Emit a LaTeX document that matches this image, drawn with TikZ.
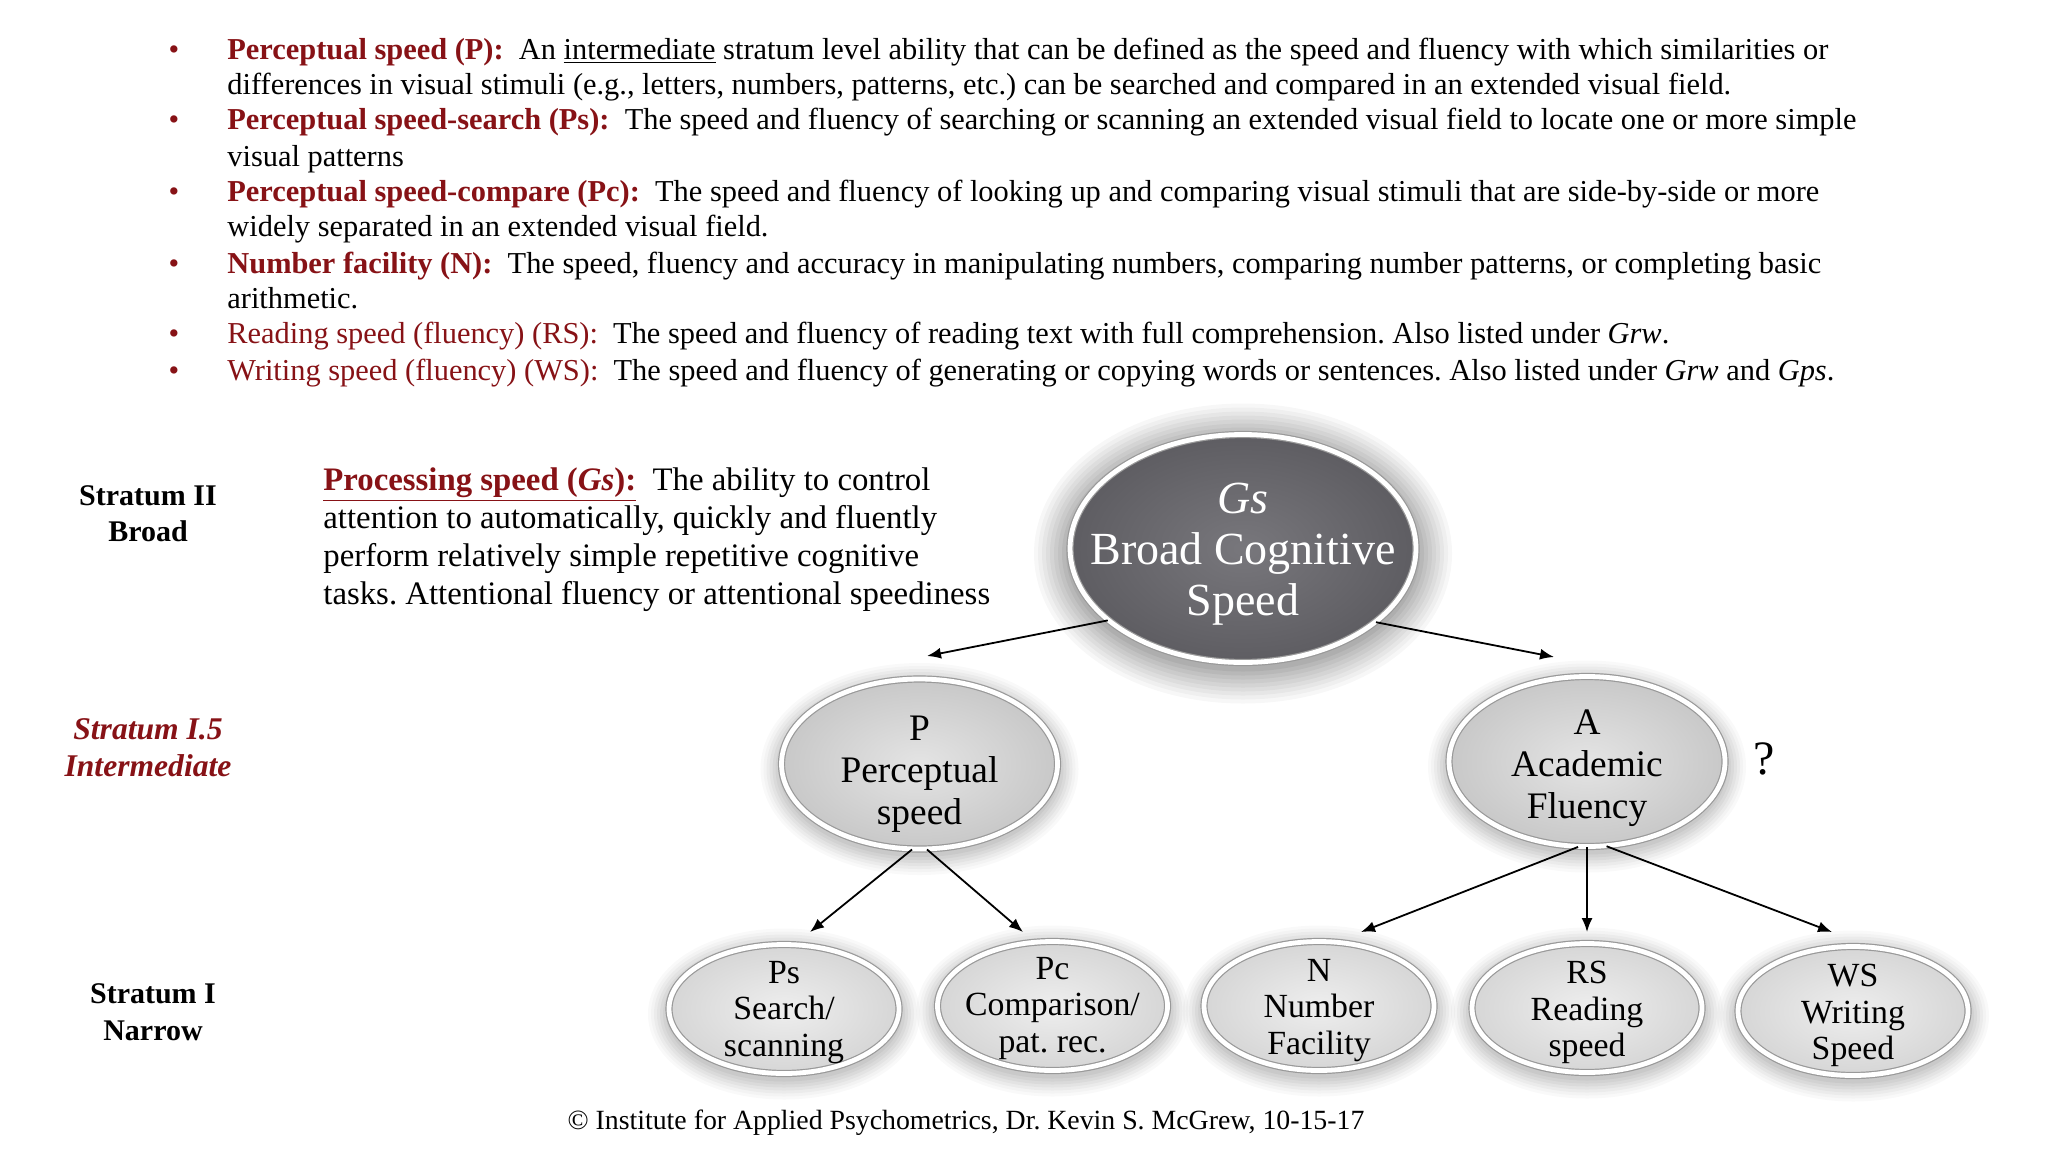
\documentclass[tikz,border=0pt]{standalone}
\usepackage{fontspec}
\setmainfont{Liberation Serif}
\usetikzlibrary{shapes.geometric,arrows.meta}
\definecolor{dred}{RGB}{135,18,22}
\definecolor{gsin}{RGB}{120,119,124}
\definecolor{gsout}{RGB}{94,93,98}
\definecolor{lin}{RGB}{228,228,228}
\definecolor{lout}{RGB}{200,200,200}
\definecolor{sin}{RGB}{238,238,238}
\definecolor{sout}{RGB}{214,214,214}
\newcommand\myfs[2]{\fontsize{#1}{#2}\selectfont}
\frenchspacing
\begin{document}
\begin{tikzpicture}[x=0.5pt,y=-0.5pt,
  txt/.style={anchor=base west, inner sep=0pt, font=\myfs{15.2}{18}},
  bdot/.style={anchor=base, inner sep=0pt, text=dred, font=\myfs{15.2}{18}},
  gstxt/.style={anchor=base west, inner sep=0pt, font=\myfs{16.4}{19}},
  stratum/.style={align=center, inner sep=0pt, font=\myfs{15}{18.2}\bfseries},
  gl/.style 2 args={preaction={draw=black, draw opacity=#2, line width=#1, transform canvas={yshift=-2.5pt}}},
  glowbig/.style={gl={36pt}{0.03}, gl={32pt}{0.03}, gl={28pt}{0.035}, gl={24pt}{0.035}, gl={20pt}{0.04},
    gl={16pt}{0.04}, gl={12pt}{0.045}, gl={8pt}{0.05}, gl={4pt}{0.05}},
  glow/.style={gl={21pt}{0.025}, gl={18pt}{0.025}, gl={15pt}{0.03}, gl={12pt}{0.03}, gl={9pt}{0.035},
    gl={6pt}{0.035}, gl={3pt}{0.04}},
  bubble/.style={ellipse, inner sep=0pt, draw=black!40, double=white, double distance=2.4pt, line width=0.6pt},
  gsbub/.style={bubble, glowbig, shade, inner color=gsin, outer color=gsout, minimum width=173pt, minimum height=114pt},
  midbub/.style={bubble, glow, shade, inner color=lin, outer color=lout, minimum width=138pt, minimum height=85pt},
  smallbub/.style={bubble, glow, shade, inner color=sin, outer color=sout, minimum width=115pt, minimum height=64.5pt},
  gslab/.style={align=center, inner sep=0pt, text=white, font=\myfs{23}{25.5}},
  midlab/.style={align=center, inner sep=0pt, font=\myfs{18.7}{21}},
  smalllab/.style={align=center, inner sep=0pt, font=\myfs{16.9}{18.3}},
  arr/.style={-{Latex[length=7pt,width=5.5pt]}, line width=0.9pt}
]
\path[use as bounding box] (0,0) rectangle (2048,1152);
\fill[white] (0,0) rectangle (2048,1152);

% bullet list
\node[bdot] (d1) at (174,59) {\textbullet};
\node[txt] (l1) at (227,59) {\textcolor{dred}{\bfseries Perceptual speed (P):}\ \ An \underline{intermediate} stratum level ability that can be defined as the speed and fluency with which similarities or};
\node[txt] (l2) at (227,94) {differences in visual stimuli (e.g., letters, numbers, patterns, etc.) can be searched and compared in an extended visual field.};
\node[bdot] (d3) at (174,129.5) {\textbullet};
\node[txt] (l3) at (227,129.5) {\textcolor{dred}{\bfseries Perceptual speed-search (Ps):}\ \ The speed and fluency of searching or scanning an extended visual field to locate one or more simple};
\node[txt] (l4) at (227,166) {visual patterns};
\node[bdot] (d5) at (174,201) {\textbullet};
\node[txt] (l5) at (227,201) {\textcolor{dred}{\bfseries Perceptual speed-compare (Pc):}\ \ The speed and fluency of looking up and comparing visual stimuli that are side-by-side or more};
\node[txt] (l6) at (227,236.6) {widely separated in an extended visual field.};
\node[bdot] (d7) at (174,273) {\textbullet};
\node[txt] (l7) at (227,273) {\textcolor{dred}{\bfseries Number facility (N):}\ \ The speed, fluency and accuracy in manipulating numbers, comparing number patterns, or completing basic};
\node[txt] (l8) at (227,308) {arithmetic.};
\node[bdot] (d9) at (174,343.7) {\textbullet};
\node[txt] (l9) at (227,343.7) {\textcolor{dred}{Reading speed (fluency) (RS):}\ \ The speed and fluency of reading text with full comprehension. Also listed under \textit{Grw}.};
\node[bdot] (d10) at (174,380) {\textbullet};
\node[txt] (l10) at (227,380) {\textcolor{dred}{Writing speed (fluency) (WS):}\ \ The speed and fluency of generating or copying words or sentences. Also listed under \textit{Grw} and \textit{Gps}.};

% stratum labels
\node[stratum] (s2) at (148,514) {Stratum II\\Broad};
\node[stratum, text=dred, font=\myfs{15.8}{18.5}\bfseries\itshape] (s15) at (148,748) {Stratum I.5\\Intermediate};
\node[stratum] (s1) at (153,1012) {Stratum I\\Narrow};

% Gs description
\node[gstxt] (g1) at (323,490) {\textcolor{dred}{\bfseries\underline{Processing speed (\textit{Gs}):}}\ \ The ability to control};
\node[gstxt] (g2) at (323,528) {attention to automatically, quickly and fluently};
\node[gstxt] (g3) at (323,566.5) {perform relatively simple repetitive cognitive};
\node[gstxt] (g4) at (323,604.5) {tasks. Attentional fluency or attentional speediness};

% bubbles
\node[gsbub] (Gs) at (1243,548.5) {};
\node[gslab] (GsT) at (1243,554) {\textit{Gs}\\Broad Cognitive\\Speed};
\node[midbub] (P) at (919.5,764) {};
\node[midlab] (PT) at (919.5,774.5) {P\\Perceptual\\speed};
\node[midbub] (A) at (1587,761.5) {};
\node[midlab] (AT) at (1587,768) {A\\Academic\\Fluency};
\node[font=\myfs{24}{26}, inner sep=0pt] (q) at (1764.5,759) {?};

\node[smallbub] (Ps) at (784,1009) {};
\node[smalllab] (PsT) at (784,1012.5) {Ps\\Search/\\scanning};
\node[smallbub] (Pc) at (1052.5,1006) {};
\node[smalllab] (PcT) at (1052.5,1008.5) {Pc\\Comparison/\\pat. rec.};
\node[smallbub] (N) at (1319,1006) {};
\node[smalllab] (NT) at (1319,1010.5) {N\\Number\\Facility};
\node[smallbub] (RS) at (1587,1008) {};
\node[smalllab] (RST) at (1587,1012.5) {RS\\Reading\\speed};
\node[smallbub] (WS) at (1853,1011) {};
\node[smalllab] (WST) at (1853,1015.5) {WS\\Writing\\Speed};

% arrow ends
\coordinate (eP) at (927,656);
\coordinate (eA) at (1554,657);
\coordinate (ePs) at (810,932);
\coordinate (ePc) at (1023,932);
\coordinate (eN) at (1361,932);
\coordinate (eRS) at (1587,932);
\coordinate (eWS) at (1832,932);

\draw[arr] (Gs.208) -- (eP);
\draw[arr] (Gs.331) -- (eA);
\draw[arr] (P.265) -- (ePs);
\draw[arr] (P.275) -- (ePc);
\draw[arr] (A.264) -- (eN);
\draw[arr] (A.270) -- (eRS);
\draw[arr] (A.283) -- (eWS);

% footer
\node[inner sep=0pt, font=\myfs{13.9}{17}] (foot) at (966,1123) {© Institute for Applied Psychometrics, Dr. Kevin S. McGrew, 10-15-17};
\end{tikzpicture}
\end{document}
